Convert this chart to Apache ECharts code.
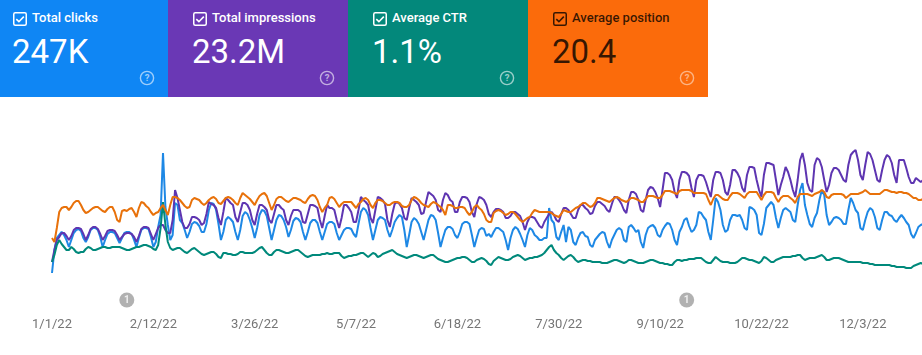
<!DOCTYPE html>
<html>
<head>
<meta charset="utf-8">
<script src="https://cdn.jsdelivr.net/npm/echarts@6/dist/echarts.min.js"></script>
<style>
  html, body { margin:0; padding:0; width:922px; height:355px; overflow:hidden; background:#fff; font-family: Roboto, "Noto Sans", sans-serif; }
  #chart { position:absolute; left:0; top:0; width:940px; height:355px; }
  .card { position:absolute; top:0; width:180px; height:97px; color:#fff; z-index:2; }
  .card .cb { position:absolute; left:25px; top:12px; width:14px; height:14px; }
  .card .lbl { position:absolute; left:44px; top:10px; font-size:13px; line-height:16px; font-weight:500; white-space:nowrap; }
  .card .num { position:absolute; left:24px; top:34px; font-size:33px; line-height:36px; font-weight:400; white-space:nowrap; }
  .card .help { position:absolute; left:151px; top:70px; width:16px; height:16px; }
</style>
</head>
<body>
<div id="cards"></div>
<div id="chart"></div>
<script>
// ---- Metric cards ----
const cardTitles = ['Total clicks', 'Total impressions', 'Average CTR', 'Average position'];
const cardValues = ['247K', '23.2M', '1.1%', '20.4'];
const cardColors = ['#0f86f4', '#6a38b5', '#03887b', '#fb6b0b'];
const cardText   = ['#ffffff', '#ffffff', '#ffffff', 'rgba(0,0,0,0.78)'];
const cardHelp   = ['rgba(255,255,255,0.6)', 'rgba(255,255,255,0.6)', 'rgba(255,255,255,0.6)', 'rgba(255,255,255,0.5)'];

// ---- Chart data (daily, 1/1/22 .. 12/31/22) ----
const clicks = [
 70,300,420,450,480,450,400,
 330,400,470,500,510,490,420,
 380,430,500,520,520,500,430,
 330,400,460,480,480,470,420,
 370,420,470,480,480,460,400,
 330,420,500,520,520,510,430,
 330,380,530,650,1270,730,550,
 400,450,770,750,600,570,500,
 420,480,560,580,570,540,480,
 480,560,700,770,760,700,560,
 400,480,600,630,610,580,480,
 400,500,640,680,660,600,520,
 420,520,650,700,690,640,520,
 400,500,600,650,640,600,530,
 430,500,590,620,610,580,480,
 400,480,570,600,600,570,480,
 400,480,560,580,580,560,470,
 400,450,500,520,520,510,460,
 430,560,680,720,700,650,520,
 400,500,600,630,620,600,500,
 430,500,580,620,650,630,500,
 330,450,580,620,600,560,480,
 400,500,600,650,640,600,470,
 330,420,500,530,530,510,450,
 420,480,560,580,580,560,450,
 330,420,500,520,510,440,460,
 430,480,520,520,500,480,400,
 300,420,500,530,510,460,400,
 330,450,520,500,450,430,400,
 400,420,420,720,600,570,430,
 400,480,550,380,530,500,380,
 350,420,470,480,440,430,350,
 330,400,430,460,480,470,380,
 320,400,450,500,520,500,400,
 380,530,550,520,480,500,380,
 320,450,520,540,550,520,450,
 430,500,540,570,560,500,400,
 350,480,530,600,620,540,480,
 500,550,680,670,630,600,480,
 400,600,820,780,700,550,480,
 500,600,650,650,640,650,600,
 520,500,730,720,700,650,470,
 450,560,720,750,780,750,620,
 520,620,700,720,700,680,600,
 580,750,900,970,750,650,560,
 530,620,670,800,900,850,650,
 550,580,620,630,620,600,560,
 560,700,820,770,700,670,520,
 500,600,680,720,700,630,520,
 500,600,680,680,650,640,600,
 580,620,650,620,580,550,460,
 420,470,530,550,560,550,500,
 450
];
const impressionsK = [
 18,30,40,43,47,47,44,
 40,44,50,52,52,51,46,
 40,45,51,53,53,51,46,
 40,44,49,50,50,49,45,
 40,43,46,47,47,46,43,
 38,44,51,53,53,52,46,
 40,46,52,55,55,50,47,
 47,60,90,82,70,58,52,
 52,56,63,63,62,60,55,
 57,66,78,76,75,72,62,
 55,68,82,80,77,75,63,
 58,68,77,77,75,70,60,
 55,66,75,75,73,70,60,
 57,66,75,75,72,70,60,
 55,64,70,70,70,68,58,
 57,66,75,75,74,72,60,
 52,64,75,72,72,70,60,
 52,62,75,75,72,68,58,
 58,70,83,80,78,75,62,
 57,70,83,82,80,76,60,
 53,66,76,78,76,72,62,
 60,72,82,80,78,75,66,
 67,78,88,86,84,80,70,
 68,80,87,85,80,78,68,
 68,78,83,83,82,78,68,
 63,76,83,82,80,75,66,
 63,68,71,71,70,68,62,
 62,64,68,68,66,64,58,
 50,58,63,63,62,58,54,
 52,58,62,66,68,65,60,
 58,66,72,72,70,66,62,
 62,70,75,75,72,70,66,
 67,74,78,78,76,74,70,
 68,76,83,83,80,76,70,
 67,80,88,88,86,80,70,
 68,80,90,93,92,88,82,
 73,90,107,107,105,100,88,
 82,100,108,108,107,104,92,
 83,100,105,105,104,98,90,
 83,100,108,108,107,100,88,
 85,95,110,110,107,102,92,
 88,105,113,113,112,100,90,
 83,105,117,117,116,115,100,
 85,95,103,113,108,100,90,
 83,100,120,127,115,97,90,
 88,115,122,120,113,100,88,
 95,107,112,112,110,105,100,
 98,115,125,128,130,120,105,
 100,115,128,126,120,110,100,
 98,110,120,125,123,117,105,
 97,120,120,120,112,103,97,
 97,102,100,98,100,102,100,
 100
];
const ctr = [
 0.9,1.25,1.75,2.0,1.8,1.65,1.5,
 1.5,1.65,1.55,1.4,1.35,1.4,1.4,
 1.55,1.65,1.6,1.5,1.5,1.55,1.6,
 1.65,1.65,1.6,1.6,1.65,1.65,1.65,
 1.65,1.6,1.55,1.5,1.5,1.55,1.6,
 1.65,1.65,1.7,1.75,1.75,1.7,1.65,
 1.55,1.5,1.75,2.6,3.9,2.75,1.9,
 1.6,1.5,1.55,1.6,1.6,1.5,1.4,
 1.35,1.45,1.55,1.6,1.5,1.4,1.3,
 1.25,1.3,1.35,1.4,1.4,1.3,1.15,
 1.1,1.35,1.35,1.3,1.3,1.25,1.25,
 1.3,1.4,1.4,1.35,1.35,1.35,1.35,
 1.4,1.5,1.6,1.65,1.5,1.35,1.25,
 1.25,1.4,1.5,1.5,1.45,1.4,1.35,
 1.35,1.4,1.45,1.5,1.5,1.4,1.3,
 1.2,1.15,1.2,1.25,1.25,1.25,1.25,
 1.3,1.3,1.35,1.3,1.3,1.35,1.35,
 1.35,1.2,1.1,1.15,1.2,1.2,1.25,
 1.25,1.3,1.35,1.35,1.25,1.15,1.25,
 1.35,1.3,1.15,1.2,1.3,1.35,1.4,
 1.45,1.5,1.4,1.3,1.25,1.2,1.15,
 1.1,1.15,1.2,1.25,1.25,1.2,1.15,
 1.1,1.15,1.2,1.25,1.25,1.15,1.05,
 1.0,0.95,0.9,0.9,0.95,1.0,1.05,
 1.1,1.1,1.15,1.15,1.1,1.0,0.9,
 0.9,1.0,1.05,1.1,1.05,0.95,0.8,
 0.75,0.95,1.05,1.15,1.1,1.05,1.0,
 1.0,1.05,1.15,1.2,1.25,1.2,1.1,
 1.0,1.05,1.1,1.1,1.15,1.15,1.2,
 1.25,1.35,1.5,1.65,1.75,1.5,1.35,
 1.25,1.1,1.0,1.1,1.2,1.25,1.15,
 1.0,0.9,0.95,1.0,1.0,0.95,0.95,
 0.9,0.9,0.9,0.9,0.85,0.85,0.85,
 0.9,0.95,1.0,1.0,0.95,0.9,0.85,
 0.9,1.0,1.0,0.95,0.9,0.85,0.85,
 0.85,0.9,0.95,1.0,1.0,0.95,0.9,
 0.85,0.85,0.8,0.8,0.75,0.75,0.9,
 1.0,1.0,0.95,1.0,1.0,1.05,1.05,
 1.05,1.1,1.1,1.1,1.0,0.9,0.85,
 0.85,1.0,1.15,1.05,0.95,0.9,0.9,
 0.9,0.85,0.85,0.85,0.9,1.0,1.1,
 1.1,1.05,1.0,1.0,0.95,0.9,0.85,
 0.95,1.15,1.1,1.0,0.9,0.9,1.0,
 1.05,1.1,1.15,1.15,1.15,1.15,1.2,
 1.2,1.25,1.25,1.1,1.0,1.05,1.1,
 1.1,1.1,1.15,1.2,1.25,1.15,1.0,
 1.0,1.05,1.1,1.1,1.1,1.05,1.0,
 0.95,0.9,0.9,0.9,0.9,0.9,0.9,
 0.85,0.85,0.85,0.8,0.8,0.75,0.75,
 0.75,0.75,0.75,0.75,0.75,0.7,0.7,
 0.65,0.65,0.65,0.65,0.6,0.6,0.6,
 0.7,0.75,0.8,0.85,0.8,0.75,0.75,
 0.75
];
const position = [
 29.4,30.6,26.4,21.6,20.4,20.1,20.1,
 21.0,20.1,18.9,18.3,18.3,19.5,21.0,
 21.9,21.6,21.0,20.4,20.1,20.1,20.7,
 21.3,21.6,20.7,20.1,20.1,21.6,24.0,
 24.6,21.3,21.0,21.3,20.7,20.4,21.6,
 23.1,20.4,18.6,18.9,19.8,20.4,21.6,
 22.5,21.9,21.6,20.4,19.5,21.0,22.5,
 19.5,17.1,17.1,17.4,18.0,18.9,19.8,
 20.4,20.1,18.0,17.4,17.7,18.0,18.9,
 19.5,18.9,18.0,17.4,17.1,17.7,18.9,
 19.2,18.3,17.4,17.1,17.4,18.0,18.9,
 19.5,17.4,15.9,16.5,17.1,17.7,18.6,
 19.5,18.0,16.8,16.2,15.9,16.8,18.9,
 21.0,19.5,17.7,17.1,17.1,17.7,18.3,
 18.6,18.0,17.4,17.4,17.7,18.0,18.6,
 18.9,17.7,16.8,16.5,16.8,18.0,20.1,
 21.6,20.4,19.5,17.4,17.1,17.7,18.9,
 20.1,19.2,18.6,18.6,18.6,18.6,19.5,
 20.4,19.2,18.6,17.7,17.4,18.0,19.5,
 20.4,18.9,18.0,18.0,18.3,18.9,19.5,
 19.5,18.9,18.6,18.6,18.9,19.8,20.1,
 20.1,19.5,18.0,17.1,17.4,18.0,18.9,
 19.5,19.8,20.1,19.2,18.6,18.9,19.5,
 20.1,21.0,22.5,19.5,19.5,19.8,20.4,
 20.4,20.1,20.1,20.4,21.6,22.5,21.6,
 20.1,19.5,20.4,21.0,22.2,24.0,24.6,
 24.6,21.9,21.3,21.0,21.3,21.9,22.5,
 22.2,21.6,21.6,22.2,23.1,24.0,24.6,
 24.0,23.4,23.1,21.9,21.0,21.3,21.6,
 21.6,21.6,21.6,21.6,21.9,22.5,22.8,
 23.1,22.2,21.0,21.3,21.6,21.6,21.0,
 20.4,20.1,19.5,18.9,18.9,19.5,20.1,
 19.8,18.9,17.4,17.4,17.7,18.0,18.3,
 18.6,18.0,17.4,17.1,17.4,18.0,18.3,
 18.6,18.0,17.4,17.4,17.7,18.0,18.6,
 18.6,17.7,16.8,16.8,16.8,17.1,17.4,
 17.4,16.5,15.3,15.3,15.3,15.6,15.9,
 16.2,15.3,15.0,15.0,15.0,15.0,15.3,
 15.9,15.9,15.9,15.9,15.9,16.2,18.0,
 19.5,17.7,16.5,16.5,17.1,17.7,18.0,
 18.0,16.8,15.9,15.9,15.9,16.2,16.8,
 17.4,16.2,15.6,15.6,15.6,15.6,16.8,
 18.0,16.5,15.6,15.6,15.6,15.9,17.4,
 18.6,17.4,16.8,16.8,16.8,17.4,18.0,
 18.9,17.1,16.2,16.2,16.2,16.2,16.5,
 16.8,16.2,15.9,15.6,15.0,15.6,17.1,
 17.4,16.5,16.2,16.2,16.2,16.2,16.5,
 17.4,16.8,16.2,16.2,16.2,16.2,15.9,
 15.6,15.0,15.6,16.2,16.2,16.2,16.2,
 16.2,15.6,15.0,15.0,15.3,15.6,15.6,
 15.9,15.6,15.6,15.9,15.9,16.2,16.8,
 17.4,17.4,18.0,18.0,17.7,18.0,18.0,
 18.0
];
const tickLabels = ['1/1/22','2/12/22','3/26/22','5/7/22','6/18/22','7/30/22','9/10/22','10/22/22','12/3/22'];
const annotationDates = ['2/1/22', '9/21/22'];
const annotationLabels = ['1', '1'];
const seriesNames = ['Clicks', 'Impressions', 'CTR', 'Position'];
const lineColors = ['#1e88e5', '#5e35b1', '#00897b', '#e8710a'];

// ---- Build date categories for 2022 ----
const dates = [];
for (let i = 0; i < clicks.length; i++) {
  const d = new Date(2022, 0, 1 + i);
  dates.push((d.getMonth() + 1) + '/' + d.getDate() + '/' + String(d.getFullYear()).slice(2));
}

// ---- Cards ----
const checkSvg = (c) => '<svg class="cb" viewBox="0 0 14 14"><rect x="0.75" y="0.75" width="12.5" height="12.5" rx="1.5" fill="none" stroke="' + c + '" stroke-width="1.5"/><path d="M3.3 7.2 L5.9 9.7 L10.8 4.6" fill="none" stroke="' + c + '" stroke-width="1.6"/></svg>';
const helpSvg = (c) => '<svg class="help" viewBox="0 0 16 16"><circle cx="8" cy="8" r="6.6" fill="none" stroke="' + c + '" stroke-width="1.4"/><text x="8" y="11.4" text-anchor="middle" font-family="Roboto" font-weight="700" font-size="9.5" fill="' + c + '">?</text></svg>';
const cardsEl = document.getElementById('cards');
cardTitles.forEach((t, i) => {
  const div = document.createElement('div');
  div.className = 'card';
  div.style.left = (-12 + i * 180) + 'px';
  div.style.background = cardColors[i];
  div.style.color = cardText[i];
  div.innerHTML = checkSvg(cardText[i]) + '<div class="lbl">' + t + '</div><div class="num">' + cardValues[i] + '</div>' + helpSvg(cardHelp[i]);
  cardsEl.appendChild(div);
});

// ---- Chart ----
const chart = echarts.init(document.getElementById('chart'), null, { renderer: 'canvas' });
const lineSeries = (name, data, yIdx, color) => ({
  name, type: 'line', data, yAxisIndex: yIdx, showSymbol: false, symbol: 'none',
  lineStyle: { width: 2, color }, itemStyle: { color }, smooth: false
});
chart.setOption({
  animation: false,
  grid: { left: 52, top: 140, width: 878.4, height: 140, containLabel: false },
  xAxis: {
    type: 'category', data: dates, boundaryGap: false,
    axisLine: { show: false }, axisTick: { show: false }, splitLine: { show: false },
    axisLabel: {
      interval: (idx, val) => tickLabels.includes(val),
      color: '#757575', fontSize: 13, fontFamily: 'Roboto', margin: 38, hideOverlap: false
    }
  },
  yAxis: [
    { type: 'value', min: 0, max: 1400, show: false },
    { type: 'value', min: 0, max: 140, show: false },
    { type: 'value', min: 0, max: 7, show: false },
    { type: 'value', min: 0, max: 42, inverse: true, show: false }
  ],
  series: [
    lineSeries(seriesNames[0], clicks, 0, lineColors[0]),
    lineSeries(seriesNames[1], impressionsK, 1, lineColors[1]),
    lineSeries(seriesNames[2], ctr, 2, lineColors[2]),
    lineSeries(seriesNames[3], position, 3, lineColors[3]),
    {
      name: 'Annotations', type: 'scatter', yAxisIndex: 0, clip: false,
      symbol: 'circle', symbolSize: 15,
      itemStyle: { color: '#9e9e9e' },
      label: { show: true, position: 'inside', formatter: (p) => annotationLabels[p.dataIndex], color: '#fff', fontSize: 10, fontWeight: 'bold', fontFamily: 'Roboto' },
      data: annotationDates.map(d => [d, -200]),
      z: 5
    }
  ]
});
</script>
</body>
</html>
